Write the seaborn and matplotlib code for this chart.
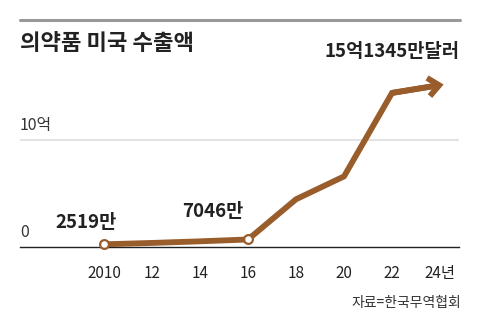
import matplotlib
matplotlib.use("Agg")
import matplotlib.pyplot as plt
import seaborn as sns
import pandas as pd

# ---- data (억 달러) ----
years = [2010, 2012, 2014, 2016, 2018, 2020, 2022, 2024]
exports = [0.2519, 0.38, 0.53, 0.7046, 4.46, 6.6, 14.4, 15.1345]
tick_labels = ["2010", "12", "14", "16", "18", "20", "22", "24년"]
marked_years = [2010, 2016]
marked_values = [0.2519, 0.7046]
marked_labels = ["2519만", "7046만"]
end_label = "15억1345만달러"
y_ticks = [0, 10]
y_tick_labels = ["0", "10억"]
title = "의약품 미국 수출액"
source = "자료=한국무역협회"

sns.set_theme(style="white")
plt.rcParams["font.family"] = ["Noto Sans CJK KR", "DejaVu Sans"]

brown = "#995c2b"
W, H = 480, 330
fig = plt.figure(figsize=(4.8, 3.3), dpi=100)

x0, x1 = 2006.5, 2024.79
y0, y1 = 0, 16
ax_left, ax_right = 20, 459
ax_bottom_px, ax_top_px = 247, 247 - 16 * 10.7
ax = fig.add_axes([ax_left / W, 1 - ax_bottom_px / H,
                   (ax_right - ax_left) / W, (ax_bottom_px - ax_top_px) / H])

df = pd.DataFrame({"year": years, "value": exports})
sns.lineplot(data=df, x="year", y="value", ax=ax, color=brown, lw=4.2,
             solid_joinstyle="miter", solid_capstyle="butt", clip_on=False, zorder=3)
# arrow head on last segment
ax.annotate("", xy=(years[-1] + 0.15, exports[-1] + 0.05), xytext=(years[-2], exports[-2]),
            arrowprops=dict(arrowstyle="->,head_length=0.65,head_width=0.55",
                            color=brown, lw=4.2, shrinkA=0, shrinkB=0,
                            joinstyle="miter", capstyle="butt"),
            annotation_clip=False, zorder=4)

mdf = pd.DataFrame({"year": marked_years, "value": marked_values})
sns.scatterplot(data=mdf, x="year", y="value", ax=ax, s=40, color="white",
                edgecolor=brown, linewidth=1.6, zorder=5, clip_on=False)

ax.set_xlim(x0, x1)
ax.set_ylim(y0, y1)
ax.set_xticks(years)
ax.set_xticklabels(tick_labels, fontsize=11, color="#222222")
ax.tick_params(axis="x", length=7, width=1, color="#888888", pad=6, direction="out")
ax.set_yticks([])
ax.set_xlabel("")
ax.set_ylabel("")
for s in ["top", "right", "left"]:
    ax.spines[s].set_visible(False)
ax.spines["bottom"].set_color("#222222")
ax.spines["bottom"].set_linewidth(1.0)

# gridline at 10억
ax.axhline(y_ticks[1], color="#dddddd", lw=1.2, zorder=1)

# y labels
for v, lab in zip(y_ticks, y_tick_labels):
    ax.annotate(lab, xy=(0, v), xycoords=("axes fraction", "data"),
                xytext=(0, 4), textcoords="offset points", ha="left", va="bottom",
                fontsize=11.5, color="#333333")

# value labels
offsets = [(-13, 16), (-25, 20)]
for xv, yv, lab, off in zip(marked_years, marked_values, marked_labels, offsets):
    ax.annotate(lab, xy=(xv, yv), xytext=off, textcoords="offset points",
                ha="center", va="center", fontsize=13.5, fontweight="bold",
                color="#222222", annotation_clip=False)
ax.annotate(end_label, xy=(years[-1], exports[-1]), xytext=(14, 24),
            textcoords="offset points", ha="right", va="center", fontsize=13.5,
            fontweight="bold", color="#222222", annotation_clip=False)

# top rule, title, source
fig.add_artist(plt.Line2D([20 / W, 460 / W], [1 - 20 / H, 1 - 20 / H],
                          color="#999999", lw=2.2))
fig.text(20 / W, 1 - 44 / H, title, ha="left", va="center", fontsize=16,
         fontweight="bold", color="#222222")
fig.text(461 / W, 1 - 303 / H, source, ha="right", va="center", fontsize=10,
         color="#333333")

fig.savefig("out.png", dpi=100, facecolor="white")
